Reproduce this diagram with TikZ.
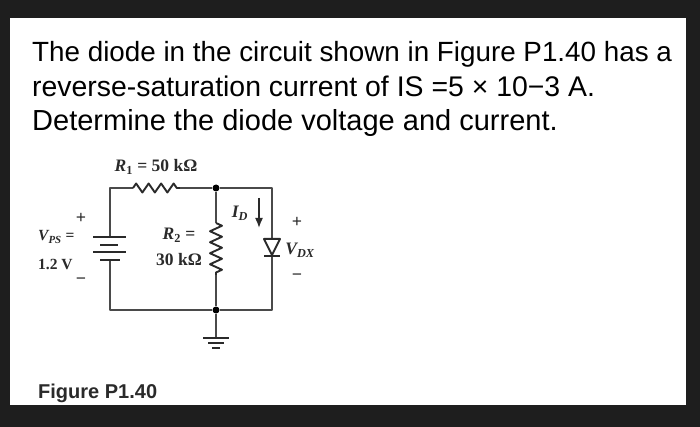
\documentclass[tikz,border=0pt]{standalone}
\usepackage{fontspec}
\setmainfont{Liberation Sans}
\newfontfamily\crcfont{Liberation Serif}
\usetikzlibrary{decorations.pathmorphing,arrows.meta}
\definecolor{wirecol}{HTML}{4A4A4A}
\definecolor{bgcol}{HTML}{1E1E1E}
\definecolor{inkcol}{HTML}{2A2A2A}
\tikzset{
  wire/.style={draw=wirecol,line width=1.9pt,line join=round},
  plate/.style={draw=inkcol,line width=2pt},
  res/.style={wire,draw=inkcol,line width=1.9pt,decorate},
  resh/.style={res,decoration={zigzag,segment length=12.5pt,amplitude=4.5pt}},
  resv/.style={res,decoration={zigzag,segment length=11pt,amplitude=6pt}},
  dotnode/.style={circle,fill=black,inner sep=0pt,minimum size=7pt},
  headline/.style={anchor=base west,inner sep=0pt,text=black},
  lab/.style={inner sep=0pt,text=inkcol,font=\crcfont\bfseries\fontsize{17.5}{19}\selectfont},
  sign/.style={inner sep=0pt,text=inkcol,font=\crcfont\bfseries\fontsize{18}{18}\selectfont},
}
\begin{document}
\begin{tikzpicture}[x=1pt,y=-1pt]
\useasboundingbox (0,0) rectangle (700,427);
\fill[bgcol] (0,0) rectangle (700,427);
\fill[white] (10,18) rectangle (686,405);
\node[headline,font=\fontsize{27.8}{30}\selectfont] (l1) at (32,62) {The diode in the circuit shown in Figure P1.40 has a};
\node[headline,font=\fontsize{28.4}{30}\selectfont] (l2) at (32,97) {reverse-saturation current of IS =5 × 10−3 A.};
\node[headline,font=\fontsize{29}{30}\selectfont] (l3) at (32,131) {Determine the diode voltage and current.};
% junctions and corners
\node[dotnode] (top) at (216,188) {};
\node[dotnode] (bot) at (216,310) {};
\coordinate (tl) at (110,188);
\coordinate (tr) at (272,188);
\coordinate (bl) at (110,310);
\coordinate (br) at (272,310);
\coordinate (r1a) at (133,188);
\coordinate (r1b) at (180,188);
\coordinate (r2a) at (216,223);
\coordinate (r2b) at (216,275);
\coordinate (batt1) at (110,237);
\coordinate (batt2) at (110,260);
\coordinate (da) at (272,239);
\coordinate (dk) at (272,255);
\coordinate (gnd) at (216,338);
% wires
\draw[wire] (batt1) -- (tl) -- (r1a);
\draw[resh] (r1a) -- (r1b);
\draw[wire] (r1b) -- (top);
\draw[wire] (top) -- (tr) -- (da);
\draw[wire] (top) -- (r2a);
\draw[resv] (r2a) -- (r2b);
\draw[wire] (r2b) -- (bot);
\draw[wire] (dk) -- (br) -- (bot);
\draw[wire] (bot) -- (bl) -- (batt2);
\draw[wire] (bot) -- (gnd);
% battery
\draw[plate] (93,237) -- (126,237);
\draw[plate,line width=2.6pt] (100,245) -- (118,245);
\draw[plate] (93,252) -- (126,252);
\draw[plate,line width=2.6pt] (100,260) -- (120,260);
% ground
\draw[plate] (203,338) -- (229,338);
\draw[plate] (208,343) -- (224,343);
\draw[plate] (212,348) -- (220,348);
% diode
\draw[draw=inkcol,line width=2pt,line join=round,fill=white] (264,239) -- (280,239) -- (272,255) -- cycle;
\draw[plate] (264,255.5) -- (280,255.5);
% current arrow
\coordinate (ia) at (259,198);
\coordinate (ib) at (259,228);
\draw[draw=inkcol,line width=1.6pt,-{Latex[length=10pt,width=8pt]}] (ia) -- (ib);
% labels
\node[lab] (r1l) at (156,167) {\textit{R}\textsubscript{1} = 50 kΩ};
\node[lab] (r2l) at (179,235) {\textit{R}\textsubscript{2} =};
\node[lab] (r2v) at (179,260) {30 kΩ};
\node[lab,anchor=west,font=\crcfont\bfseries\fontsize{15.5}{17}\selectfont] (vl) at (38,237) {\textit{V\textsubscript{PS}} =};
\node[lab,anchor=west,font=\crcfont\bfseries\fontsize{15.5}{17}\selectfont] (vv) at (38,264) {1.2 V};
\node[lab] (idl) at (240,213) {\textit{I\textsubscript{D}}};
\node[lab] (vdl) at (300,250) {\textit{V\textsubscript{DX}}};
\node[sign] (pa) at (81,218) {+};
\node[sign] (ma) at (81,281) {−};
\node[sign] (pb) at (297,222) {+};
\node[sign] (mb) at (297,277) {−};
\node[anchor=base west,inner sep=0pt,font=\bfseries\fontsize{20}{22}\selectfont,text=inkcol] (fig) at (38,398) {Figure P1.40};
\end{tikzpicture}
\end{document}
